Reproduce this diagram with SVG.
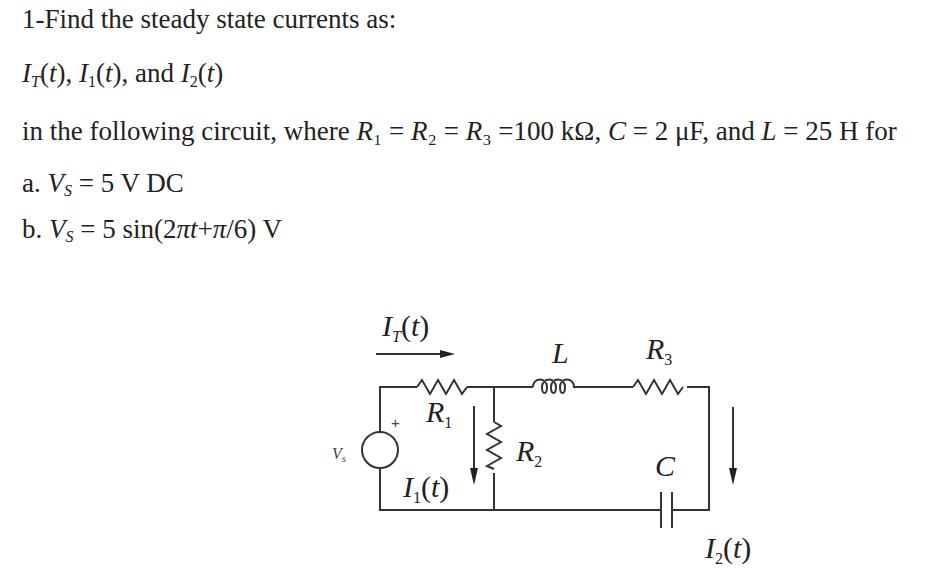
<svg xmlns="http://www.w3.org/2000/svg" width="939" height="577" viewBox="0 0 939 577">
<style>
.t{font-family:"Liberation Serif",serif;font-size:27px;fill:#222}
.c{font-family:"Liberation Serif",serif;font-size:30px;fill:#222;font-style:italic}
.s{font-size:16px}
.w{fill:none;stroke:#333;stroke-width:2}
.h{fill:#222}
</style>
<rect width="939" height="577" fill="#fff"/>
<text class="t" x="22" y="28">1-Find the steady state currents as:</text>
<text class="t" x="22" y="82"><tspan font-style="italic">I</tspan><tspan class="s" font-style="italic" dy="5">T</tspan><tspan dy="-5">(</tspan><tspan font-style="italic">t</tspan>), <tspan font-style="italic">I</tspan><tspan class="s" dy="5">1</tspan><tspan dy="-5">(</tspan><tspan font-style="italic">t</tspan>), and <tspan font-style="italic">I</tspan><tspan class="s" dy="5">2</tspan><tspan dy="-5">(</tspan><tspan font-style="italic">t</tspan>)</text>
<text class="t" x="22" y="140">in the following circuit, where <tspan font-style="italic">R</tspan>₁ = <tspan font-style="italic">R</tspan>₂ = <tspan font-style="italic">R</tspan>₃ =100 kΩ, <tspan font-style="italic">C</tspan> = 2 μF, and <tspan font-style="italic">L</tspan> = 25 H for</text>
<text class="t" x="22" y="192">a. <tspan font-style="italic">V</tspan><tspan class="s" font-style="italic" dy="4">S</tspan><tspan dy="-4"> = 5 V DC</tspan></text>
<text class="t" x="22" y="238">b. <tspan font-style="italic">V</tspan><tspan class="s" font-style="italic" dy="4">S</tspan><tspan dy="-4"> = 5 sin(2</tspan><tspan font-style="italic">πt</tspan>+<tspan font-style="italic">π</tspan>/6) V</text>
<g id="connectors">
<path class="w" d="M380,432 V387 H417 M467,387 H533 M587,387 H633 M687,387 H709 V510 H672 M661,510 H380 V468 M494,387 V422 M494,473 V510"/>
<path class="w" d="M376,354 H440"/><path class="h" d="M440,350 L455,354 L440,358Z"/>
<path class="w" d="M474,406 V470"/><path class="h" d="M470,468 L474,485 L478,468Z"/>
<path class="w" d="M733,407 V470"/><path class="h" d="M729,468 L733,485 L737,468Z"/>
</g>
<g id="Vs"><circle class="w" cx="380" cy="450" r="18"/><text x="332" y="459" font-family="Liberation Serif,serif" font-style="italic" font-size="16" fill="#444">V<tspan font-size="11" dy="3">s</tspan></text><text x="391" y="428" font-family="Liberation Sans,sans-serif" font-size="15" fill="#444">+</text></g>
<g id="R1"><path class="w" d="M417,387 l5,-7 l8,14 l8,-14 l8,14 l8,-14 l8,14 l5,-7"/><text class="c" x="426" y="422">R<tspan class="s" dy="6" font-style="normal">1</tspan></text></g>
<g id="R2"><path class="w" d="M494,422 l7,4 l-14,8 l14,8 l-14,8 l14,8 l-14,8 l7,3"/><text class="c" x="516" y="461">R<tspan class="s" dy="6" font-style="normal">2</tspan></text></g>
<g id="L"><path class="w" d="M533,387 c0,-10 14,-10 14,0 c0,8 -5,8 -5,0 c0,-10 14,-10 14,0 c0,8 -5,8 -5,0 c0,-10 14,-10 14,0 c0,8 -5,8 -5,0 c0,-10 14,-10 14,0 H587"/><text class="c" x="552" y="363">L</text></g>
<g id="R3"><path class="w" d="M633,387 l5,-7 l8,14 l8,-14 l8,14 l8,-14 l8,14 l5,-7"/><text class="c" x="646" y="359">R<tspan class="s" dy="6" font-style="normal">3</tspan></text></g>
<g id="C"><path class="w" d="M661,492 V528 M672,492 V528"/><text class="c" x="655" y="476">C</text></g>
<g id="labels">
<text class="c" x="382" y="336">I<tspan class="s" dy="6">T</tspan><tspan dy="-6" font-style="normal">(</tspan>t<tspan font-style="normal">)</tspan></text>
<text class="c" x="403" y="497">I<tspan class="s" dy="6" font-style="normal">1</tspan><tspan dy="-6" font-style="normal">(</tspan>t<tspan font-style="normal">)</tspan></text>
<text class="c" x="705" y="558">I<tspan class="s" dy="6" font-style="normal">2</tspan><tspan dy="-6" font-style="normal">(</tspan>t<tspan font-style="normal">)</tspan></text>
</g>
</svg>
